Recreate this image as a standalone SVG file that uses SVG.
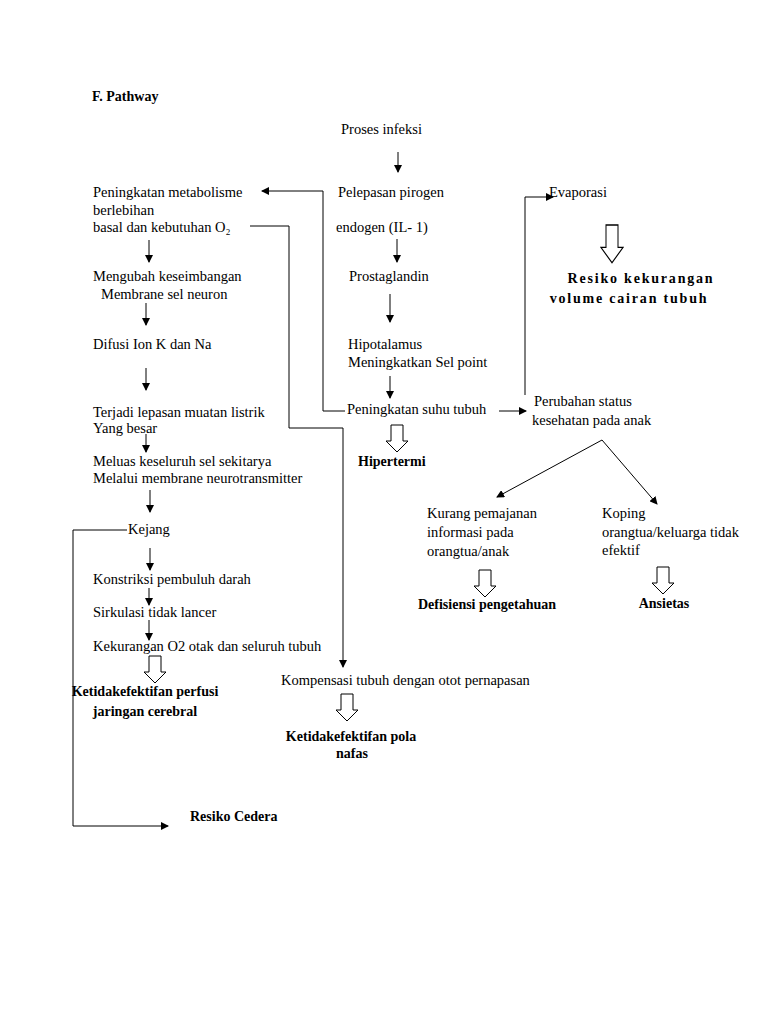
<svg xmlns="http://www.w3.org/2000/svg" xmlns:xlink="http://www.w3.org/1999/xlink" width="768" height="1024" viewBox="0 0 768 1024">
<style>
text{font-family:"Liberation Serif",serif;font-size:14.5px;fill:#000}
.b{font-weight:bold;font-size:14px}
.w{letter-spacing:1.8px}
.c{text-anchor:middle}
.l{fill:none;stroke:#000;stroke-width:1}
</style>
<defs>
<marker id="a" markerWidth="8" markerHeight="8" refX="7" refY="4" orient="auto" markerUnits="userSpaceOnUse"><path d="M0,0 L8,4 L0,8 Z" fill="#000"/></marker>
<path id="ha" d="M-6,0 H6 V16 H11 L0,27 L-11,16 H-6 Z" fill="#fff" stroke="#000" stroke-width="1"/>
</defs>
<rect width="768" height="1024" fill="#fff"/>
<text x="92" y="101" class="b">F.  Pathway</text>
<g id="nodes">
<g id="n1"><text x="341" y="134">Proses infeksi</text></g>
<g id="n2"><text x="338" y="197">Pelepasan pirogen</text><text x="336" y="232">endogen (IL- 1)</text></g>
<g id="n3"><text x="349" y="281">Prostaglandin</text></g>
<g id="n4"><text x="348" y="349">Hipotalamus</text><text x="348" y="367">Meningkatkan Sel point</text></g>
<g id="n5"><text x="347" y="414">Peningkatan suhu tubuh</text></g>
<g id="n6"><text x="358" y="466" class="b">Hipertermi</text></g>
<g id="n7"><text x="93" y="197">Peningkatan metabolisme</text><text x="93" y="215">berlebihan</text><text x="93" y="232">basal dan kebutuhan O₂</text></g>
<g id="n8"><text x="93" y="281">Mengubah keseimbangan</text><text x="101" y="299">Membrane sel neuron</text></g>
<g id="n9"><text x="93" y="349">Difusi Ion K dan Na</text></g>
<g id="n10"><text x="93" y="417">Terjadi lepasan muatan listrik</text><text x="93" y="433">Yang besar</text></g>
<g id="n11"><text x="93" y="466">Meluas keseluruh sel sekitarya</text><text x="93" y="483">Melalui membrane neurotransmitter</text></g>
<g id="n12"><text x="128" y="534">Kejang</text></g>
<g id="n13"><text x="93" y="584">Konstriksi pembuluh darah</text></g>
<g id="n14"><text x="93" y="617">Sirkulasi tidak lancer</text></g>
<g id="n15"><text x="93" y="651">Kekurangan O2 otak dan seluruh tubuh</text></g>
<g id="n16"><text x="145" y="696" class="b c">Ketidakefektifan perfusi</text><text x="145" y="716" class="b c">jaringan cerebral</text></g>
<g id="n17"><text x="190" y="821" class="b">Resiko Cedera</text></g>
<g id="n18"><text x="281" y="685">Kompensasi tubuh dengan otot pernapasan</text></g>
<g id="n19"><text x="351" y="741" class="b c">Ketidakefektifan pola</text><text x="352" y="758" class="b c">nafas</text></g>
<g id="n20"><text x="534" y="406">Perubahan status</text><text x="532" y="425">kesehatan pada anak</text></g>
<g id="n21"><text x="549" y="197">Evaporasi</text></g>
<g id="n22"><text x="641" y="283" class="b c w">Resiko kekurangan</text><text x="629" y="303" class="b c w">volume cairan tubuh</text></g>
<g id="n23"><text x="427" y="518">Kurang pemajanan</text><text x="427" y="537">informasi pada</text><text x="427" y="556">orangtua/anak</text></g>
<g id="n24"><text x="487" y="609" class="b c">Defisiensi pengetahuan</text></g>
<g id="n25"><text x="602" y="518">Koping</text><text x="602" y="537">orangtua/keluarga tidak</text><text x="602" y="555">efektif</text></g>
<g id="n26"><text x="664" y="608" class="b c">Ansietas</text></g>
</g>
<g id="connectors">
<path class="l" marker-end="url(#a)" d="M398,152 V172"/>
<path class="l" marker-end="url(#a)" d="M397,239 V262"/>
<path class="l" marker-end="url(#a)" d="M390,294 V322"/>
<path class="l" marker-end="url(#a)" d="M390,376 V398"/>
<path class="l" marker-end="url(#a)" d="M499,411 H526"/>
<path class="l" marker-end="url(#a)" d="M345,411 H323 V191 H262"/>
<path class="l" marker-end="url(#a)" d="M250,226 H289 V428 H343 V667"/>
<path class="l" marker-end="url(#a)" d="M149,240 V262"/>
<path class="l" marker-end="url(#a)" d="M146,303 V325"/>
<path class="l" marker-end="url(#a)" d="M146,368 V390"/>
<path class="l" marker-end="url(#a)" d="M146,434 V452"/>
<path class="l" marker-end="url(#a)" d="M150,490 V512"/>
<path class="l" marker-end="url(#a)" d="M127,530 H73 V826 H168"/>
<path class="l" marker-end="url(#a)" d="M150,548 V570"/>
<path class="l" marker-end="url(#a)" d="M149,588 V605"/>
<path class="l" marker-end="url(#a)" d="M149,620 V640"/>
<path class="l" marker-end="url(#a)" d="M525,395 V197 H553"/>
<path class="l" marker-end="url(#a)" d="M602,440 L497,497"/>
<path class="l" marker-end="url(#a)" d="M602,440 L657,504"/>
<use xlink:href="#ha" href="#ha" x="397" y="425"/>
<use xlink:href="#ha" href="#ha" x="155" y="656"/>
<use xlink:href="#ha" href="#ha" x="347" y="694"/>
<g transform="translate(612,225) scale(1,1.4)"><use xlink:href="#ha" href="#ha"/></g>
<use xlink:href="#ha" href="#ha" x="485" y="570"/>
<use xlink:href="#ha" href="#ha" x="663" y="567"/>
</g>
</svg>
